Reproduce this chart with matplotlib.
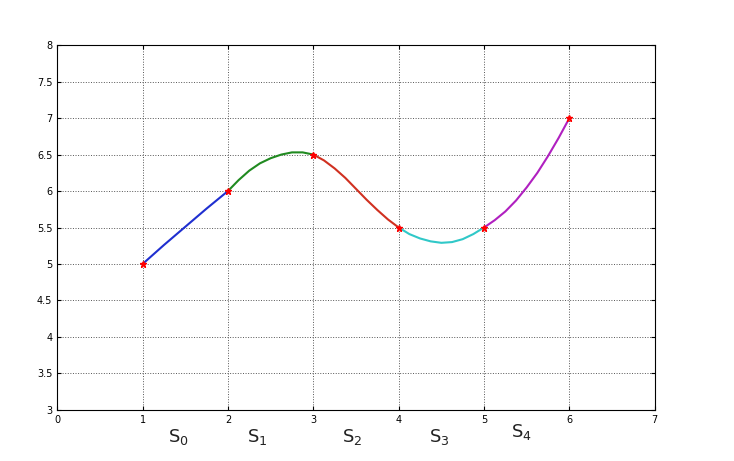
import matplotlib
matplotlib.use("Agg")
import matplotlib.pyplot as plt

knot_x = [1, 2, 3, 4, 5, 6]
knot_y = [5, 6, 6.5, 5.5, 5.5, 7]

# curve samples, one list per segment
seg_x = [
    [1, 1.25, 1.5, 1.75, 2],
    [2, 2.125, 2.25, 2.375, 2.5, 2.625, 2.75, 2.875, 3],
    [3, 3.125, 3.25, 3.375, 3.5, 3.625, 3.75, 3.875, 4],
    [4, 4.125, 4.25, 4.375, 4.5, 4.625, 4.75, 4.875, 5],
    [5, 5.125, 5.25, 5.375, 5.5, 5.625, 5.75, 5.875, 6],
]
seg_y = [
    [5, 5.26, 5.51, 5.76, 6],
    [6, 6.15, 6.28, 6.38, 6.45, 6.50, 6.53, 6.53, 6.5],
    [6.5, 6.42, 6.31, 6.18, 6.03, 5.88, 5.74, 5.61, 5.5],
    [5.5, 5.41, 5.35, 5.31, 5.29, 5.30, 5.34, 5.41, 5.5],
    [5.5, 5.6, 5.72, 5.87, 6.05, 6.25, 6.48, 6.73, 7],
]
seg_colors = ["#1f2fd0", "#208a20", "#d03020", "#30c8c8", "#b020c0"]
seg_labels = ["$\\mathrm{S_0}$", "$\\mathrm{S_1}$", "$\\mathrm{S_2}$", "$\\mathrm{S_3}$", "$\\mathrm{S_4}$"]
label_x = [1.42, 2.34, 3.45, 4.48, 5.44]
label_y = [-0.075, -0.075, -0.075, -0.075, -0.06]

fig = plt.figure(figsize=(7.34, 4.61), dpi=100)
ax = fig.add_axes([0.078, 0.111, 0.814, 0.791])
for xs, ys, c in zip(seg_x, seg_y, seg_colors):
    ax.plot(xs, ys, color=c, lw=1.5)
ax.plot(knot_x, knot_y, "*", color="red", ms=5)

ax.set_xlim(0, 7)
ax.set_ylim(3, 8)
ax.set_xticks(range(0, 8))
ax.set_yticks([3 + 0.5 * i for i in range(11)])
ax.set_yticklabels(["3", "3.5", "4", "4.5", "5", "5.5", "6", "6.5", "7", "7.5", "8"])
ax.tick_params(direction="in", labelsize=7, length=3, top=True, right=True)
ax.grid(True, linestyle=":", color="#555555", lw=0.7)

for lx, ly, t in zip(label_x, label_y, seg_labels):
    ax.text(lx, ly, t, transform=ax.get_xaxis_transform(), fontsize=13,
            ha="center", va="center", color="#222222")

fig.savefig("out.png")
